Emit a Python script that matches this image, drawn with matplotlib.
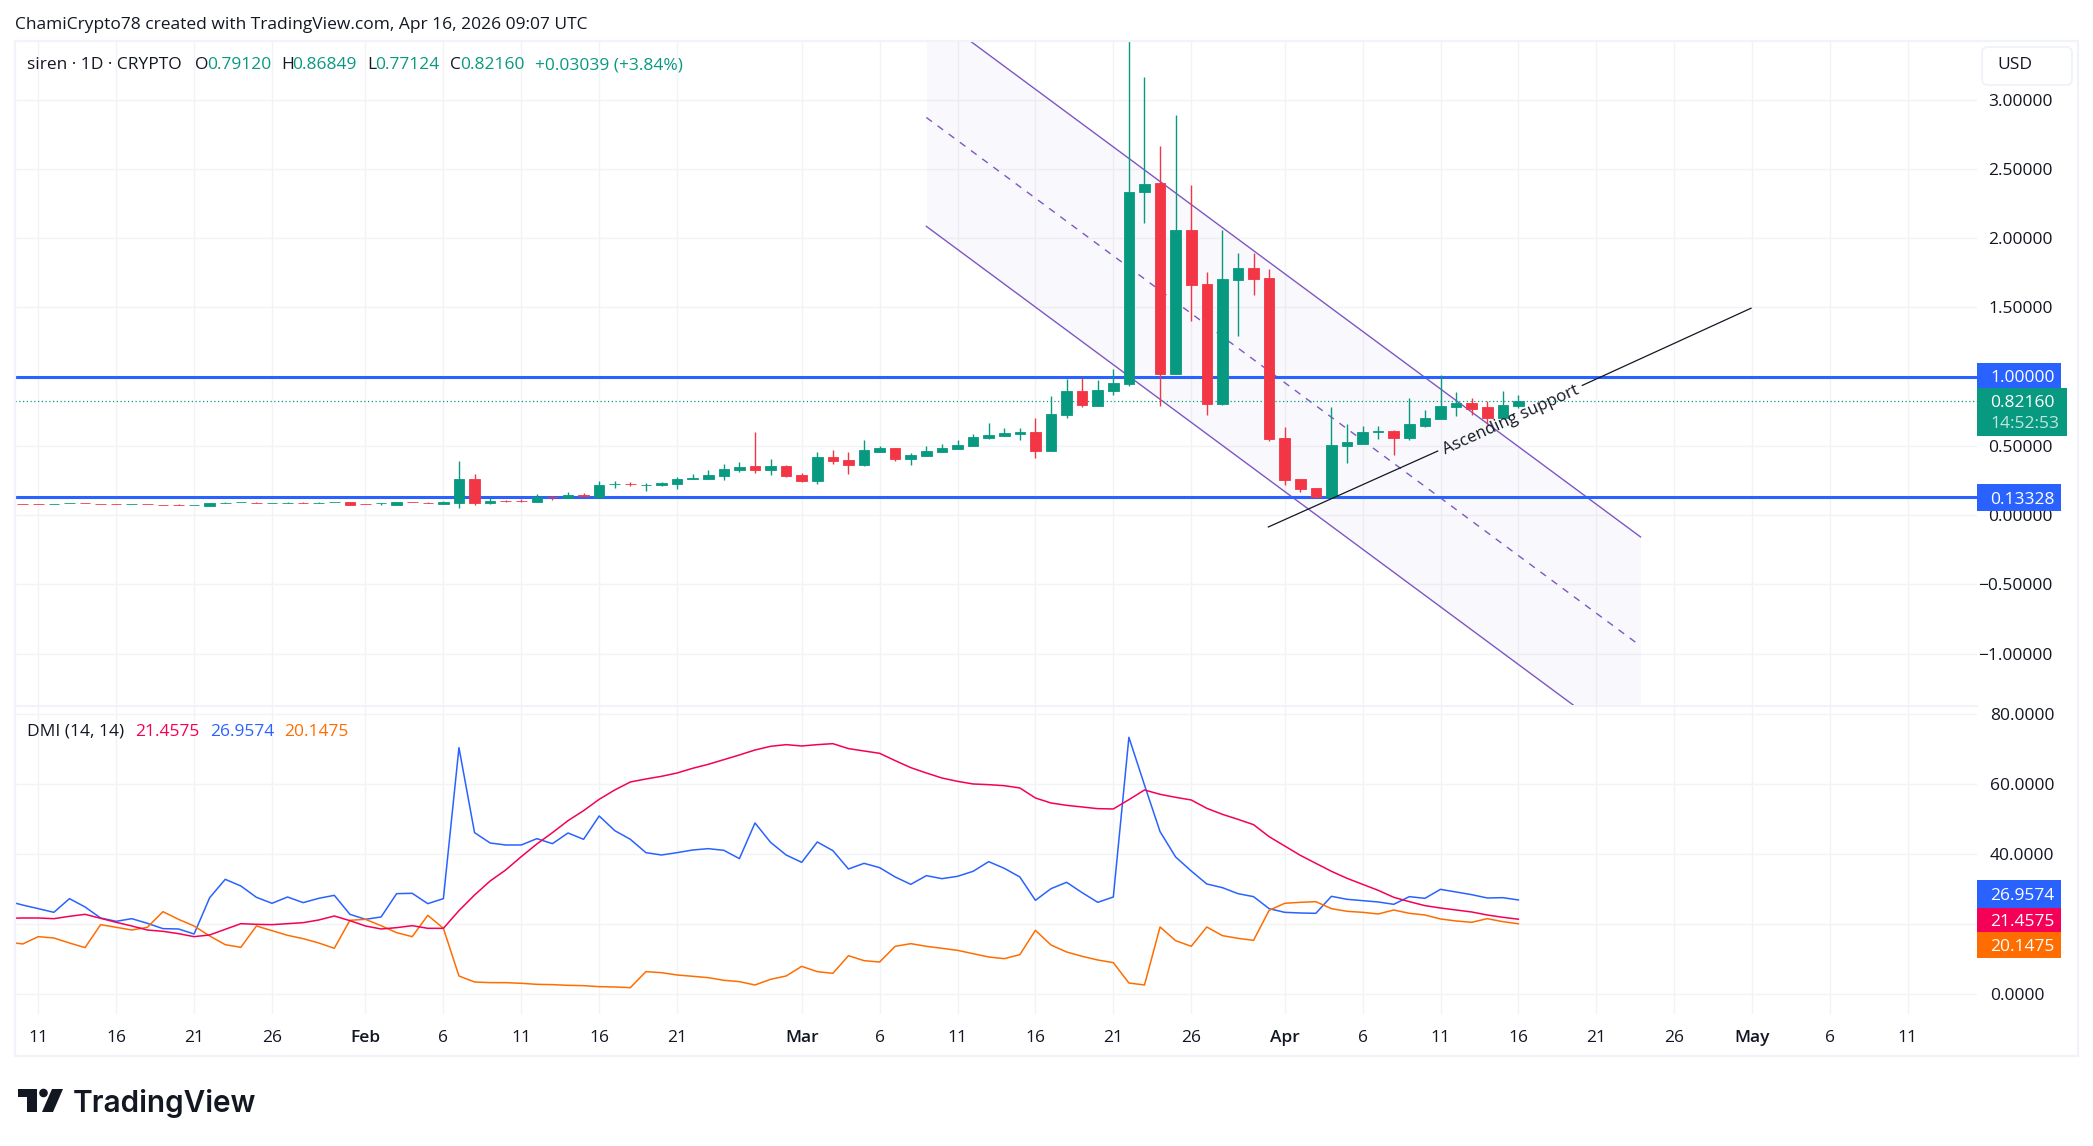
import matplotlib
matplotlib.use("Agg")
import matplotlib.pyplot as plt
from matplotlib.patches import Rectangle, FancyBboxPatch, Polygon, Circle
import numpy as np

W, H = 2093, 1146
FONT = ['Open Sans', 'DejaVu Sans']
plt.rcParams['font.family'] = FONT

# ---------- data ----------
candle_days = list(range(-1, 96))   # days since 11 Jan 2026
opens = [.081,.081,.079,.085,.087,.081,.081,.079,.081,.073,.074,.071,.068,.085,.092,.087,.085,.085,.087,.085,
         .092,.096,.081,.085,.075,.094,.087,.082,.089,.263,.089,.103,.103,.096,.131,.121,.147,.133,.222,.226,
         .215,.220,.227,.263,.263,.285,.328,.357,.328,.357,.292,.249,.423,.401,.364,.459,.488,.408,.430,.459,
         .480,.502,.560,.575,.589,.604,.466,.720,.893,.785,.894,.945,2.336,2.401,1.017,2.060,1.669,.800,1.698,1.785,
         1.712,.560,.263,.198,.133,.502,.517,.597,.611,.560,.647,.698,.778,.807,.778,.705,.7912]
highs = [.081,.081,.081,.087,.087,.081,.081,.081,.081,.073,.082,.073,.089,.096,.094,.096,.087,.096,.096,.096,
         .094,.096,.081,.087,.096,.094,.096,.104,.394,.299,.121,.111,.118,.154,.138,.169,.162,.249,.249,.241,
         .234,.241,.278,.299,.328,.372,.386,.604,.408,.364,.307,.459,.473,.459,.546,.502,.488,.451,.502,.517,
         .546,.589,.662,.633,.633,.705,.864,.985,.987,.974,1.053,3.6,3.162,2.662,2.886,2.386,1.756,2.060,1.894,1.894,
         1.777,.640,.263,.198,.778,.655,.647,.647,.618,.843,.756,1.010,.886,.843,.821,.894,.86849]
lows = [.079,.079,.079,.085,.085,.079,.079,.079,.079,.071,.071,.071,.068,.085,.092,.085,.085,.085,.085,.085,
        .092,.075,.079,.077,.075,.092,.085,.082,.053,.075,.082,.096,.098,.096,.111,.121,.140,.133,.198,.212,
        .176,.212,.191,.263,.263,.256,.314,.307,.292,.278,.241,.227,.372,.299,.357,.459,.394,.364,.430,.459,
        .480,.502,.553,.575,.546,.415,.466,.705,.778,.785,.865,.930,2.111,.785,1.017,1.401,.720,.793,1.293,1.590,
        .539,.220,.169,.133,.130,.379,.517,.553,.437,.546,.640,.691,.713,.720,.655,.705,.77124]
closes = [.079,.079,.081,.087,.085,.079,.079,.081,.079,.071,.071,.073,.089,.087,.094,.085,.087,.087,.085,.087,
          .094,.075,.079,.087,.096,.092,.085,.096,.263,.089,.104,.100,.100,.133,.129,.147,.140,.220,.226,.222,
          .219,.234,.263,.268,.292,.336,.350,.328,.357,.285,.249,.423,.394,.364,.473,.488,.408,.437,.466,.488,
          .509,.567,.582,.596,.604,.466,.727,.893,.792,.901,.952,2.336,2.394,1.017,2.060,1.662,.800,1.705,1.785,1.705,
          .553,.256,.191,.133,.510,.531,.604,.611,.560,.655,.705,.785,.807,.770,.705,.799,.8216]

dmi_days = list(range(-2, 96))
dmi_plus = [26.66,25.5,24.47,23.42,27.33,24.95,21.8,20.85,21.61,20.28,
            18.76,18.66,17.23,27.61,32.85,30.95,27.71,26.0,27.8,26.19,
            27.42,28.28,22.85,21.42,22.09,28.76,28.85,25.9,27.33,70.47,
            46.19,43.23,42.66,42.66,44.47,43.04,46.09,44.28,50.95,46.76,
            44.28,40.47,39.8,40.47,41.23,41.61,41.14,38.76,48.95,43.42,
            39.8,37.71,43.52,41.04,35.8,37.42,36.19,33.52,31.42,33.9,
            33.04,33.71,35.14,37.9,36.0,33.52,26.85,30.18,32.0,29.04,
            26.28,27.8,73.42,59.8,46.47,39.23,35.23,31.52,30.47,28.76,
            27.9,24.47,23.42,23.23,23.14,28.0,27.14,26.76,26.38,25.71,
            27.9,27.42,29.99,29.23,28.47,27.52,27.61,26.9574]
adx = [21.71,21.8,21.8,21.61,22.28,22.85,21.71,20.56,19.52,18.37,
       17.99,17.33,16.47,16.95,18.57,20.18,19.99,19.9,20.18,20.47,
       21.23,22.37,21.04,19.52,18.66,19.04,19.61,18.85,18.85,23.9,
       28.37,32.37,35.52,39.33,42.95,46.19,49.61,52.47,55.71,58.38,
       60.66,61.52,62.28,63.23,64.57,65.71,67.04,68.38,69.8,70.85,
       71.33,70.95,71.33,71.61,70.2,69.52,68.85,66.76,64.76,63.23,
       61.8,60.85,60.09,59.9,59.61,58.95,56.09,54.66,53.99,53.52,
       53.04,52.95,55.61,58.38,57.14,56.28,55.52,53.14,51.42,49.99,
       48.47,45.04,42.38,39.71,37.42,35.14,33.14,31.42,29.71,27.71,
       26.47,25.33,24.66,24.09,23.52,22.66,22.0,21.4575]
dmi_minus = [14.95,14.38,16.47,16.09,14.66,13.33,19.9,19.14,18.37,19.14,
             23.61,21.42,19.52,16.66,14.18,13.42,19.52,18.18,16.85,15.9,
             14.66,13.14,21.14,21.42,19.61,17.61,16.47,22.57,18.85,5.23,
             3.52,3.33,3.33,3.14,2.85,2.76,2.56,2.47,2.18,2.09,
             1.9,6.47,6.18,5.52,5.14,4.76,4.0,3.61,2.66,4.28,
             5.23,7.99,6.47,5.99,11.04,9.61,9.23,13.71,14.47,13.71,
             13.14,12.56,11.61,10.66,10.18,11.33,18.28,14.09,12.09,10.85,
             9.8,9.04,3.23,2.66,19.23,15.33,13.71,19.23,16.76,15.99,
             15.42,23.99,26.0,26.28,26.47,24.47,23.71,23.42,22.95,24.09,
             23.14,22.66,21.52,20.95,20.57,21.61,20.76,20.1475]

tick_days = [0,5,10,15,21,26,31,36,41,49,54,59,64,69,74,80,85,90,95,100,105,110,115,120]
tick_labels = ['11','16','21','26','Feb','6','11','16','21','Mar','6','11','16','21','26','Apr','6','11','16','21','26','May','6','11']
month_labels = ['Feb','Mar','Apr','May']

price_ticks = [3.0,2.5,2.0,1.5,1.0,.5,0.0,-.5,-1.0]
price_tick_labels = ['3.00000','2.50000','2.00000','1.50000','','0.50000','0.00000','\u22120.50000','\u22121.00000']
dmi_ticks = [80,60,40,20,0]
dmi_tick_labels = ['80.0000','60.0000','40.0000','','0.0000']

resistance = 1.0
support = 0.13328
last_close = 0.8216

channel_days = [57.0, 102.84]
channel_upper = [3.657, -0.157]
channel_mid = [2.871, -0.944]
channel_lower = [2.085, -1.730]

asc_days_a = [78.95, 89.82]
asc_price_a = [-0.085, 0.463]
asc_days_b = [99.10, 109.93]
asc_price_b = [0.937, 1.494]

# ---------- colours ----------
GREEN, RED, BLUE = '#089981', '#F23645', '#2962FF'
PINK, ORANGE, PURPLE = '#F50057', '#FF6D00', '#7E57C2'
GRID, BORDER, INK = '#F2F3F6', '#F0F3FA', '#131722'
FS = 12.5

fig = plt.figure(figsize=(W/100, H/100), dpi=100, facecolor='white')

def pane(l, t, r, b):
    return fig.add_axes([l/W, 1-b/H, (r-l)/W, (b-t)/H])

X0, X1 = (15-38.3)/15.58, (1977-38.3)/15.58
ax1 = pane(15, 42, 1977, 705)
ax2 = pane(15, 707, 1977, 1014)

for ax in (ax1, ax2):
    ax.set_xlim(X0, X1)
    for s in ax.spines.values():
        s.set_visible(False)
    ax.set_xticks(tick_days)
    ax.grid(True, color=GRID, lw=1.0, zorder=0)
    ax.set_axisbelow(True)
    ax.yaxis.tick_right()

ax1.set_ylim((515.2-705)/138.53, (515.2-42)/138.53)
ax2.set_ylim((994.3-1014)/3.5, (994.3-707)/3.5)

ax1.tick_params(axis='x', length=0, labelbottom=False)
ax1.set_yticks(price_ticks, price_tick_labels)
ax1.tick_params(axis='y', length=0, labelsize=FS, labelcolor=INK, pad=54.7)
for t in ax1.get_yticklabels():
    t.set_ha('right')
    t.set_va('center_baseline')

ax2.set_yticks(dmi_ticks, dmi_tick_labels)
ax2.tick_params(axis='y', length=0, labelsize=FS, labelcolor=INK, pad=9.4)
for t in ax2.get_yticklabels():
    t.set_va('center_baseline')
ax2.set_xticks(tick_days, tick_labels)
ax2.tick_params(axis='x', length=0, labelsize=FS, labelcolor=INK, pad=11.5)
for t in ax2.get_xticklabels():
    if t.get_text() in month_labels:
        t.set_fontweight('semibold')

# channel
ax1.fill_between(channel_days, channel_upper, channel_lower, color=PURPLE, alpha=0.04, lw=0, zorder=1)
ax1.plot(channel_days, channel_upper, color=PURPLE, lw=1.0, zorder=2)
ax1.plot(channel_days, channel_lower, color=PURPLE, lw=1.0, zorder=2)
ax1.plot(channel_days, channel_mid, color=PURPLE, lw=1.0, ls=(0, (5, 5)), zorder=2)

# horizontal levels
ax1.axhline(resistance, color=BLUE, lw=2.2, zorder=3)
ax1.axhline(support, color=BLUE, lw=2.2, zorder=3)
ax1.axhline(last_close, color=GREEN, lw=0.9, ls=(0, (1, 2)), zorder=3)

# candles
colors = [GREEN if c >= o else RED for o, c in zip(opens, closes)]
ax1.vlines(candle_days, lows, highs, colors=colors, lw=1.0, zorder=4)
ax1.bar(candle_days, [c-o for o, c in zip(opens, closes)], bottom=opens, width=0.68,
        color=colors, edgecolor=colors, lw=0.6, zorder=5)

# ascending support
ax1.plot(asc_days_a, asc_price_a, color=INK, lw=0.9, zorder=6)
ax1.plot(asc_days_b, asc_price_b, color=INK, lw=0.9, zorder=6)

# DMI
ax2.plot(dmi_days, dmi_plus, color=BLUE, lw=1.1, zorder=3)
ax2.plot(dmi_days, dmi_minus, color=ORANGE, lw=1.1, zorder=3)
ax2.plot(dmi_days, adx, color=PINK, lw=1.1, zorder=4)

# ---------- overlay in pixel coordinates ----------
ov = fig.add_axes([0, 0, 1, 1], zorder=10)
ov.set_xlim(0, W)
ov.set_ylim(H, 0)
ov.axis('off')
ov.patch.set_alpha(0)

ov.add_patch(Rectangle((14.5, 41), 2063, 1015, fill=False, ec=BORDER, lw=1.6))
ov.plot([15, 1977], [706, 706], color=BORDER, lw=1.4)

def txt(x, y, s, color=INK, size=FS, **kw):
    return ov.text(x, y + 2, s, color=color, fontsize=size, va='center', ha=kw.pop('ha', 'left'), **kw)

txt(15, 23, 'ChamiCrypto78 created with TradingView.com, Apr 16, 2026 09:07 UTC')

txt(27, 63, 'siren \u00b7 1D \u00b7 CRYPTO')
for x, s in [(195, 'O'), (281, 'H'), (367, 'L'), (450, 'C')]:
    txt(x, 63, s)
for x, s in [(207, '0.79120'), (292.5, '0.86849'), (375, '0.77124'), (460.5, '0.82160'),
             (535, '+0.03039 (+3.84%)')]:
    txt(x, 63, s, color=GREEN)

txt(27, 730, 'DMI (14, 14)')
txt(135, 730, '21.4575', color=PINK)
txt(210, 730, '26.9574', color=BLUE)
txt(284, 730, '20.1475', color=ORANGE)

txt(1511.5, 418, 'Ascending support', size=12.2, rotation=24.4, rotation_mode='anchor', ha='center')

# USD button
ov.add_patch(FancyBboxPatch((1982, 47), 90, 38, boxstyle='round,pad=0,rounding_size=6',
                            fc='white', ec=BORDER, lw=1.4))
txt(1997, 63, 'USD')

def box(l, t, r, b, color, s, y=None, tc='white'):
    ov.add_patch(Rectangle((l, t), r-l, b-t, fc=color, ec='none'))
    if s:
        txt(1990, (t+b)/2 if y is None else y, s, color=tc)

box(1977, 363, 2061, 388, BLUE, '1.00000')
box(1977, 484, 2061, 511, BLUE, '0.13328')
box(1977, 388, 2067, 436, GREEN, '0.82160', y=401)
txt(1990, 422, '14:52:53', color='#BFE6DF')
box(1977, 880, 2061, 907.5, BLUE, '26.9574')
box(1977, 907.5, 2061, 931.5, PINK, '21.4575')
box(1977, 931.5, 2061, 958, ORANGE, '20.1475')

# TradingView logo
LOGO = '#131722'
ov.add_patch(Polygon([(18, 1089), (37, 1089), (37, 1112), (27, 1112), (27, 1097), (18, 1097)], fc=LOGO, ec='none'))
ov.add_patch(Circle((43.5, 1093), 4.3, fc=LOGO, ec='none'))
ov.add_patch(Polygon([(52, 1089), (63, 1089), (53, 1112), (42, 1112)], fc=LOGO, ec='none'))
ov.text(73, 1112, 'TradingView', color=LOGO, fontsize=21.4, fontfamily=['Inter', 'DejaVu Sans'],
        fontweight='semibold', va='baseline', ha='left')

fig.savefig('out.png', dpi=100, facecolor='white')
